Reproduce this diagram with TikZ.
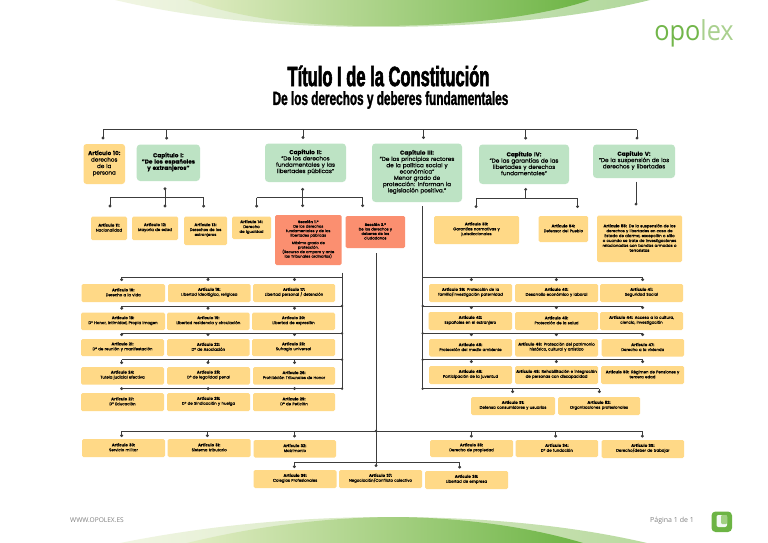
\documentclass[tikz,border=0pt]{standalone}
\usepackage{fontspec}
\usetikzlibrary{arrows.meta}
\setmainfont[FakeBold=0.15]{Poppins}
\newfontfamily\titlefont[FakeStretch=0.59,FakeBold=2]{Liberation Sans}
\newfontfamily\subfont[FakeStretch=0.62,FakeBold=1.5]{Liberation Sans}
\newfontfamily\logofont[FakeStretch=0.92]{Open Sans}
\newfontfamily\footfont{Open Sans}
\definecolor{boxyel}{HTML}{FFD987}
\definecolor{boxgrn}{HTML}{BDE3C4}
\definecolor{boxred}{HTML}{FB8F70}
\definecolor{linec}{HTML}{3C3C3C}
\definecolor{txt}{HTML}{000000}
\tikzset{
  conn/.style={draw=linec,line width=1pt},
  tipd/.style={conn,-{Circle[length=2.8pt]},shorten >=#1},
  baseb/.style={inner sep=0pt,outer sep=0pt,align=center,text=txt},
  artb/.style={baseb,fill=boxyel,rounded corners=1.5pt,font=\fontsize{3.9pt}{4.9pt}\selectfont},
  artc/.style={baseb,fill=boxyel,rounded corners=3pt,font=\fontsize{5.6pt}{6.5pt}\selectfont},
  secb/.style={baseb,fill=boxred,rounded corners=1.5pt,font=\fontsize{3.7pt}{4.5pt}\selectfont},
  capb/.style={baseb,fill=boxgrn,rounded corners=3.5pt,font=\fontsize{5.7pt}{6.3pt}\selectfont},
}
% style, name, x1, y1, x2, y2, text
\newcommand{\bx}[7]{%
  \pgfmathsetmacro{\cxv}{(#3+#5)/2}\pgfmathsetmacro{\cyv}{(#4+#6)/2}%
  \pgfmathsetmacro{\wv}{#5-#3}\pgfmathsetmacro{\hv}{#6-#4}%
  \pgfmathsetmacro{\twv}{#5-#3-1}%
  \node[#1,minimum width=\wv pt,minimum height=\hv pt,text width=\twv pt] (#2) at (\cxv,\cyv) {#7\par\vspace*{1.6pt}};}
\newcommand{\ar}[2]{\textbf{Artículo #1:}\\#2}
% x, y, node, gap
\newcommand{\dropto}[4]{\coordinate (dtmp) at (#1,#2); \draw[tipd=#4] (dtmp) -- (dtmp |- #3.north);}
\begin{document}
\begin{tikzpicture}[x=1pt,y=-1pt]
\useasboundingbox (0,0) rectangle (768,543);
\fill[white] (0,0) rectangle (768,543);
% top decoration
\shade[left color={rgb,255:red,242;green,246;blue,228},right color={rgb,255:red,176;green,215;blue,155}]
 (115,0) .. controls (200,20) and (290,27) .. (375,27) .. controls (470,27) and (570,20) .. (650,0) -- cycle;
\shade[left color={rgb,255:red,226;green,237;blue,196},middle color={rgb,255:red,176;green,212;blue,132},right color={rgb,255:red,108;green,180;blue,68}]
 (188,0) .. controls (240,18) and (300,26) .. (375,26) .. controls (460,26) and (540,17) .. (590,0) -- cycle;
% bottom decoration
\shade[left color={rgb,255:red,242;green,246;blue,228},right color={rgb,255:red,185;green,218;blue,160}]
 (120,543) .. controls (200,527) and (290,517) .. (390,517) .. controls (480,517) and (570,525) .. (647,543) -- cycle;
\shade[left color={rgb,255:red,226;green,237;blue,196},middle color={rgb,255:red,176;green,212;blue,132},right color={rgb,255:red,108;green,180;blue,68}]
 (187,543) .. controls (240,530) and (310,518) .. (390,517) .. controls (460,517) and (530,527) .. (583,543) -- cycle;
% logo
\node[inner sep=0pt,font=\logofont\fontsize{27.5pt}{28pt}\selectfont] (logo) at (694,33) {\textcolor[HTML]{72B64A}{opo}\textcolor[HTML]{A9D08E}{lex}};
% titles
\node[inner sep=0pt,font=\titlefont\bfseries\fontsize{28pt}{28pt}\selectfont] (tit) at (388.5,76) {Título I de la Constitución};
\node[inner sep=0pt,font=\subfont\bfseries\fontsize{19pt}{19pt}\selectfont] (sub) at (390.5,100) {De los derechos y deberes fundamentales};
% footer
\node[inner sep=0pt,anchor=west,text=black!50,font=\footfont\fontsize{6.6pt}{7pt}\selectfont] (web) at (70,520.5) {WWW.OPOLEX.ES};
\node[inner sep=0pt,anchor=east,text=black!50,font=\footfont\fontsize{7pt}{7pt}\selectfont] (pag) at (694,520.5) {Página 1 de 1};
\fill[fill={rgb,255:red,108;green,180;blue,68},rounded corners=4pt] (711.5,511.5) rectangle (732,532);
\fill[fill=white!80!boxgrn,rounded corners=2pt] (716.5,515) rectangle (727,527);
\fill[fill={rgb,255:red,160;green,208;blue,130},rounded corners=1pt] (721,515) rectangle (727,524);

% top row
\bx{artc}{a10}{83.5}{144}{125}{184}{\textbf{Artículo 10:}\\derechos\\de la\\persona}
\bx{capb}{c1}{136.7}{144.5}{200}{181}{\textbf{Capítulo I:}\\\textbf{"De los españoles}\\\textbf{y extranjeros"}}
\bx{capb}{c2}{265}{143.5}{346}{182}{\textbf{Capítulo II:}\\"De los derechos\\fundamentales y las\\libertades públicas"}
\bx{capb}{c3}{372}{143.5}{462}{202}{\textbf{Capítulo III:}\\"De los principios rectores\\de la política social y\\económica"\\Menor grado de\\protección: Informan la\\legislación positiva."}
\bx{capb}{c4}{479}{144.5}{569}{184}{\textbf{Capítulo IV:}\\"De las garantías de las\\libertades y derechos\\fundamentales"}
\bx{capb}{c5}{593}{144.5}{675}{178}{\textbf{Capítulo V:}\\"De la suspensión de los\\derechos y libertades}
% second row
\bx{artb}{a11}{91}{216.5}{127}{240}{\ar{11}{Nacionalidad}}
\bx{artb}{a12}{132}{216.5}{178}{240}{\ar{12}{Mayoría de edad}}
\bx{artb}{a13}{184}{216.5}{227}{245}{\ar{13}{Derechos de los\\extranjeros}}
\bx{artb}{a14}{232}{216.5}{271}{239}{\ar{14}{Derecho\\de igualdad}}
\bx{secb}{s1}{275}{215}{341.5}{265}{\textbf{Sección 1.ª}\\De los derechos\\fundamentales y de las\\libertades públicas\\[3pt]Máximo grado de\\protección.\\(Recurso de amparo y ante\\los Tribunales ordinarios)}
\bx{secb}{s2}{345.7}{216}{405}{248}{\textbf{Sección 2.ª}\\De los derechos y\\deberes de los\\ciudadanos}
\bx{artb}{a53}{434}{216}{519}{244}{\ar{53}{Garantías normativas y\\jurisdiccionales}}
\bx{artb}{a54}{538.7}{216}{588}{242}{\ar{54}{Defensor del Pueblo}}
\bx{artb}{a55}{597}{215.5}{682}{262}{\textbf{Artículo 55:} De la suspensión de los\\derechos y libertades en caso de\\Estado de alarma, excepción o sitio\\o cuando se trate de investigaciones\\relacionadas con bandas armadas o\\terroristas}
% grid left
\bx{artb}{a15}{81.5}{284}{165}{302}{\ar{15}{Derecho a la vida}}
\bx{artb}{a16}{168}{284}{250.5}{302}{\ar{16}{Libertad ideológica, religiosa}}
\bx{artb}{a17}{253}{284}{335}{302}{\ar{17}{Libertad personal / detención}}
\bx{artb}{a18}{81}{312.7}{165}{330}{\ar{18}{Dº Honor, Intimidad, Propia Imagen}}
\bx{artb}{a19}{167}{312.7}{249.7}{330}{\ar{19}{Libertad residencia y circulación}}
\bx{artb}{a20}{252}{312.7}{335}{330}{\ar{20}{Libertad de expresión}}
\bx{artb}{a21}{81}{339}{164}{356}{\ar{21}{Dº de reunión y manifestación}}
\bx{artb}{a22}{167}{339}{249.7}{356}{\ar{22}{Dº de Asociación}}
\bx{artb}{a23}{252}{339}{335}{356}{\ar{23}{Sufragio universal}}
\bx{artb}{a24}{81}{367}{164}{384.5}{\ar{24}{Tutela judicial efectiva}}
\bx{artb}{a25}{167}{367}{250}{384.5}{\ar{25}{Dº de legalidad penal}}
\bx{artb}{a26}{253}{367}{335}{384.5}{\ar{26}{Prohibición Tribunales de Honor}}
\bx{artb}{a27}{81}{393}{164}{411}{\ar{27}{Dº Educación}}
\bx{artb}{a28}{167}{393}{250}{411}{\ar{28}{Dº de Sindicación y huelga}}
\bx{artb}{a29}{253}{393}{335}{411}{\ar{29}{Dº de Petición}}
% grid right
\bx{artb}{a39}{429}{284}{512}{302}{\textbf{Artículo 39:} Protección de la\\familia/investigación paternidad}
\bx{artb}{a40}{515}{284}{598}{302}{\ar{40}{Desarrollo económico y laboral}}
\bx{artb}{a41}{600}{284}{683}{302}{\ar{41}{Seguridad Social}}
\bx{artb}{a42}{428.7}{312}{512}{330}{\ar{42}{Españoles en el extranjero}}
\bx{artb}{a43}{515}{312}{598}{330}{\ar{43}{Protección de la salud}}
\bx{artb}{a44}{600}{312}{683}{330}{\textbf{Artículo 44:} Acceso a la cultura,\\ciencia, investigación}
\bx{artb}{a45}{429}{339}{512}{356.5}{\ar{45}{Protección del medio ambiente}}
\bx{artb}{a46}{515}{339}{598}{356.5}{\textbf{Artículo 46:} Protección del patrimonio\\histórico, cultural y artístico}
\bx{artb}{a47}{601.5}{339}{684}{356.5}{\ar{47}{Derecho a la vivienda}}
\bx{artb}{a48}{429}{366}{512}{384}{\ar{48}{Participación de la juventud}}
\bx{artb}{a49}{515}{366}{598}{384}{\textbf{Artículo 49:} Rehabilitación e integración\\de personas con discapacidad}
\bx{artb}{a50}{601}{366}{684}{384}{\textbf{Artículo 50:} Régimen de Pensiones y\\tercera edad}
\bx{artb}{a51}{471}{397}{555}{415}{\ar{51}{Defensa consumidores y usuarios}}
\bx{artb}{a52}{558}{397}{640}{415}{\ar{52}{Organizaciones profesionales}}
% bottom
\bx{artb}{a30}{82}{439}{165}{457}{\ar{30}{Servicio militar}}
\bx{artb}{a31}{167.7}{439}{250.7}{457}{\ar{31}{Sistema tributario}}
\bx{artb}{a32}{253.7}{440}{336}{457.5}{\ar{32}{Matrimonio}}
\bx{artb}{a33}{430}{440}{513}{457}{\ar{33}{Derecho de propiedad}}
\bx{artb}{a34}{515.7}{440}{598}{457}{\ar{34}{Dº de fundación}}
\bx{artb}{a35}{601.7}{440}{684}{458}{\ar{35}{Derecho/deber de trabajar}}
\bx{artb}{a36}{253.7}{470}{336.5}{488}{\ar{36}{Colegios Profesionales}}
\bx{artb}{a37}{339}{470}{422}{488}{\ar{37}{Negociación/Conflicto colectivo}}
\bx{artb}{a38}{425}{471}{508}{489}{\ar{38}{Libertad de empresa}}

% top bus
\coordinate (tl) at (103,129.5); \coordinate (tr) at (637,129.5);
\draw[conn] (tl) -- (tr);
\dropto{103}{129.5}{a10}{4.5pt}
\dropto{166.7}{129.5}{c1}{5pt}
\dropto{303}{129.5}{c2}{4.5pt}
\dropto{423.5}{129.5}{c3}{4.5pt}
\dropto{525.7}{129.5}{c4}{5pt}
\dropto{637}{129.5}{c5}{5pt}
% Capítulo I
\coordinate (c1o) at (165,187.3);
\draw[conn,{Circle[length=2.8pt]}-] (c1o) -- (165,197.7);
\draw[conn] (110,197.7) -- (203.7,197.7);
\dropto{110}{197.7}{a11}{9pt}
\dropto{165}{197.7}{a12}{9pt}
\dropto{203.7}{197.7}{a13}{9pt}
% Capítulo II
\coordinate (c2o) at (302.7,188);
\draw[conn,{Circle[length=2.8pt]}-] (c2o) -- (302.7,197.7);
\draw[conn] (256.7,197.7) -- (362.7,197.7);
\dropto{256.7}{197.7}{a14}{9pt}
\dropto{302.7}{197.7}{s1}{8pt}
\dropto{362.7}{197.7}{s2}{9pt}
% Capítulo IV
\coordinate (c4o) at (525.7,188);
\draw[conn,{Circle[length=2.8pt]}-] (c4o) -- (525.7,198.5);
\draw[conn] (476,198.5) -- (577.5,198.5);
\dropto{476}{198.5}{a53}{8pt}
\dropto{577.5}{198.5}{a54}{8pt}
% Capítulo V
\dropto{636}{181.7}{a55}{10pt}
% Sección 1 trunk
\coordinate (s1t) at (342,272.7); \coordinate (s1b) at (342,388.7);
\draw[conn] (s1t) -- (s1b);
\foreach \yy/\aa/\bb/\cc in {277.3/a15/a16/a17,306/a18/a19/a20,333.3/a21/a22/a23,359.7/a24/a25/a26,388.7/a27/a28/a29}{
  \draw[conn] (121.7,\yy) -- (342,\yy);
  \dropto{121.7}{\yy}{\aa}{3pt}
  \dropto{208}{\yy}{\bb}{3pt}
  \dropto{294.5}{\yy}{\cc}{3pt}
}
\foreach \yy in {306,333.3,359.7,388.7}{\fill[linec] (342,\yy) circle (1.3pt);}
% Capítulo III trunk
\coordinate (c3t) at (422.7,206); \coordinate (c3b) at (422.7,388.7);
\draw[conn] (c3t) -- (c3b);
\foreach \yy/\aa/\bb/\cc in {277.3/a39/a40/a41,306/a42/a43/a44,333.3/a45/a46/a47,359.7/a48/a49/a50}{
  \draw[conn] (422.7,\yy) -- (642.7,\yy);
  \dropto{471.3}{\yy}{\aa}{3pt}
  \dropto{556.3}{\yy}{\bb}{3pt}
  \dropto{642.7}{\yy}{\cc}{3pt}
}
\draw[conn] (422.7,388.7) -- (599.3,388.7);
\dropto{512.7}{388.7}{a51}{4pt}
\dropto{599.3}{388.7}{a52}{4pt}
\foreach \yy in {306,333.3,359.7,388.7}{\fill[linec] (422.7,\yy) circle (1.3pt);}
% Sección 2 trunk
\coordinate (s2t) at (376,253);
\draw[conn] (s2t) -- (376,462.3);
\draw[conn] (121.7,431) -- (642.3,431);
\fill[linec] (376,431) circle (1.3pt);
\dropto{121.7}{431}{a30}{2pt}
\dropto{207.3}{431}{a31}{2pt}
\dropto{294.5}{431}{a32}{2.5pt}
\dropto{471.3}{431}{a33}{2.5pt}
\dropto{555.7}{431}{a34}{2.5pt}
\dropto{642.3}{431}{a35}{2.5pt}
\draw[conn] (294.3,462.3) -- (459.7,462.3);
\dropto{294.3}{462.3}{a36}{2pt}
\dropto{376}{462.3}{a37}{3pt}
\dropto{459.7}{462.3}{a38}{2.5pt}
\end{tikzpicture}
\end{document}
